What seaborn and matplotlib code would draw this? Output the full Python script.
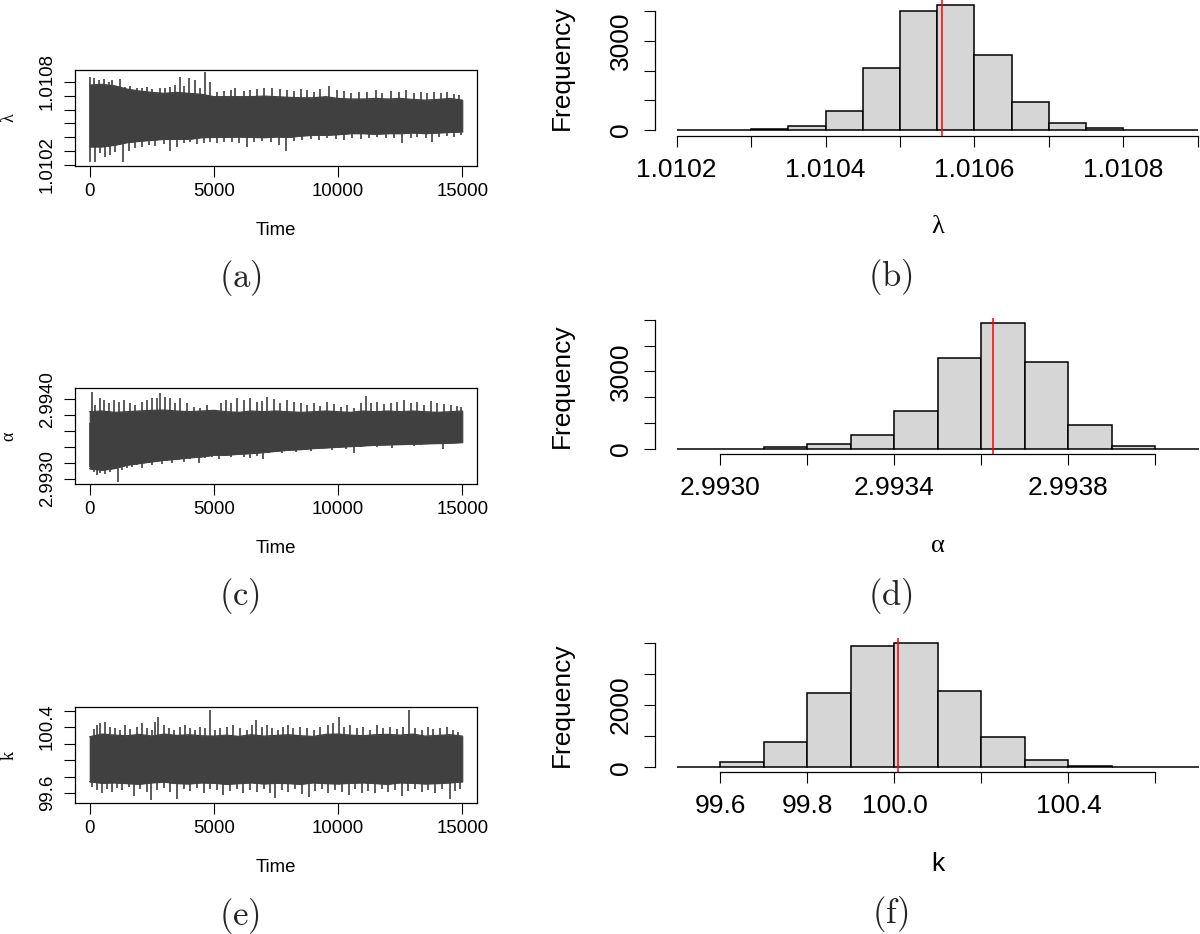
import numpy as np
import matplotlib
matplotlib.use("Agg")
import matplotlib.pyplot as plt
import seaborn as sns

sns.set_theme(style="white")
plt.rcParams['font.family'] = ['Liberation Sans', 'DejaVu Sans']
plt.rcParams['mathtext.fontset'] = 'cm'

# ---- trace plots: dense band edges read every 500 iterations, plus the spikes seen on its edges ----
trace_iter = list(range(0, 15001, 500))

lam_hi = [1.010778, 1.010783, 1.010773, 1.010749, 1.010735, 1.010725, 1.010718, 1.010725,
          1.010718, 1.010711, 1.010694, 1.010694, 1.010694, 1.010694, 1.010698, 1.010694,
          1.010689, 1.010686, 1.010686, 1.010694, 1.010681, 1.010677, 1.010677, 1.010681,
          1.010677, 1.010681, 1.010674, 1.010669, 1.010674, 1.010681, 1.010669]
lam_lo = [1.010331, 1.010331, 1.010343, 1.010362, 1.010372, 1.010379, 1.010386, 1.010386,
          1.010386, 1.010398, 1.010400, 1.010400, 1.010403, 1.010400, 1.010398, 1.010403,
          1.010400, 1.010410, 1.010415, 1.010415, 1.010420, 1.010427, 1.010427, 1.010423,
          1.010427, 1.010427, 1.010432, 1.010427, 1.010432, 1.010436, 1.010440]
lam_up_iter = [30, 160, 360, 560, 770, 900, 1210, 1440, 1640, 1910, 2110, 2310, 2510, 2850,
               3050, 3250, 3450, 3630, 3790, 3990, 4260, 4460, 4630, 4860, 5130, 5400, 5670,
               5870, 6210, 6470, 6740, 7010, 7350, 7680, 7950, 8220, 8490, 8760, 9030, 9290,
               9630, 9970, 10230, 10500, 10840, 11170, 11510, 11780, 12110, 12450, 12720,
               13050, 13320, 13590, 13860, 14130, 14400, 14670, 14870]
lam_up_val = [1.010839, 1.010827, 1.010815, 1.010822, 1.010802, 1.010815, 1.010822, 1.010766,
              1.010773, 1.010754, 1.010759, 1.010766, 1.010749, 1.010754, 1.010759, 1.010766,
              1.010778, 1.010839, 1.010773, 1.010827, 1.010815, 1.010754, 1.010870, 1.010802,
              1.010730, 1.010735, 1.010742, 1.010754, 1.010735, 1.010742, 1.010749, 1.010759,
              1.010754, 1.010749, 1.010742, 1.010735, 1.010749, 1.010742, 1.010730, 1.010749,
              1.010773, 1.010742, 1.010735, 1.010718, 1.010725, 1.010730, 1.010742, 1.010718,
              1.010735, 1.010730, 1.010742, 1.010718, 1.010725, 1.010718, 1.010730, 1.010718,
              1.010725, 1.010711, 1.010706]
lam_dn_iter = [30, 230, 430, 630, 830, 1030, 1340, 1570, 1840, 2110, 2380, 2650, 2980, 3250,
               3520, 3790, 4060, 4320, 4590, 4860, 5130, 5400, 5740, 6000, 6340, 6610, 6940,
               7280, 7620, 7920, 8220, 8560, 8890, 9230, 9560, 9900, 10230, 10570, 10910,
               11240, 11580, 11910, 12250, 12580, 12920, 13190, 13520, 13790, 14060, 14400,
               14670, 14930]
lam_dn_val = [1.010217, 1.010222, 1.010282, 1.010258, 1.010270, 1.010290, 1.010217, 1.010299,
              1.010319, 1.010331, 1.010343, 1.010338, 1.010348, 1.010299, 1.010331, 1.010355,
              1.010362, 1.010348, 1.010355, 1.010367, 1.010355, 1.010362, 1.010367, 1.010355,
              1.010331, 1.010362, 1.010372, 1.010367, 1.010343, 1.010299, 1.010372, 1.010379,
              1.010386, 1.010379, 1.010391, 1.010386, 1.010379, 1.010391, 1.010386, 1.010396,
              1.010403, 1.010391, 1.010396, 1.010355, 1.010396, 1.010403, 1.010396, 1.010367,
              1.010403, 1.010410, 1.010403, 1.010415]

alp_hi = [2.993845, 2.993854, 2.993837, 2.993845, 2.993854, 2.993862, 2.993866, 2.993854,
          2.993845, 2.993854, 2.993862, 2.993845, 2.993837, 2.993854, 2.993845, 2.993854,
          2.993845, 2.993837, 2.993845, 2.993854, 2.993845, 2.993837, 2.993854, 2.993845,
          2.993854, 2.993845, 2.993854, 2.993845, 2.993837, 2.993845, 2.993854]
alp_lo = [2.993130, 2.993113, 2.993134, 2.993176, 2.993197, 2.993218, 2.993238, 2.993251,
          2.993268, 2.993280, 2.993301, 2.993301, 2.993314, 2.993322, 2.993335, 2.993351,
          2.993364, 2.993372, 2.993385, 2.993393, 2.993402, 2.993410, 2.993418, 2.993427,
          2.993431, 2.993435, 2.993439, 2.993444, 2.993448, 2.993452, 2.993460]
alp_up_iter = [90, 230, 430, 560, 770, 970, 1170, 1370, 1640, 1840, 2110, 2310, 2510, 2710,
               2850, 3050, 3250, 3450, 3650, 3920, 4190, 4460, 4730, 5000, 5270, 5470, 5670,
               5940, 6210, 6470, 6740, 6940, 7150, 7410, 7680, 7950, 8220, 8490, 8760, 9030,
               9290, 9560, 9830, 10100, 10370, 10640, 10910, 11110, 11310, 11580, 11850,
               12110, 12380, 12650, 12920, 13190, 13460, 13730, 13990, 14260, 14530, 14800,
               14930]
alp_up_val = [2.994096, 2.993929, 2.994021, 2.993992, 2.993950, 2.993992, 2.993971, 2.993992,
              2.993950, 2.993929, 2.993971, 2.993992, 2.994013, 2.994021, 2.994075, 2.994033,
              2.994013, 2.993950, 2.994013, 2.993950, 2.993908, 2.993887, 2.993929, 2.993866,
              2.993950, 2.993992, 2.993950, 2.994013, 2.993992, 2.994013, 2.993971, 2.993979,
              2.994033, 2.994004, 2.993950, 2.993992, 2.993971, 2.993950, 2.993929, 2.993950,
              2.993920, 2.993962, 2.993937, 2.993908, 2.993929, 2.993887, 2.993950, 2.994046,
              2.993950, 2.993971, 2.993937, 2.993950, 2.993971, 2.993992, 2.993950, 2.993962,
              2.993929, 2.993979, 2.993950, 2.993937, 2.993929, 2.993920, 2.993908]
alp_dn_iter = [30, 160, 300, 430, 630, 830, 1130, 1300, 1500, 1710, 1910, 2110, 2310, 2510,
               2710, 2910, 3120, 3320, 3520, 3790, 4060, 4390, 4660, 4930, 5200, 5400, 5670,
               5940, 6210, 6470, 6740, 6980, 7210, 7480, 7750, 8020, 8290, 8560, 8890, 9160,
               9500, 9760, 10030, 10300, 10640, 10910, 11240, 11580, 11850, 12180, 12450,
               12720, 13050, 13320, 13590, 13860, 14200, 14460, 14730, 14930]
alp_dn_val = [2.993155, 2.993084, 2.993050, 2.993071, 2.993059, 2.993084, 2.992967, 2.993113,
              2.993134, 2.993155, 2.993176, 2.993142, 2.993197, 2.993176, 2.993209, 2.993184,
              2.993226, 2.993197, 2.993238, 2.993209, 2.993251, 2.993197, 2.993268, 2.993280,
              2.993251, 2.993293, 2.993280, 2.993301, 2.993280, 2.993268, 2.993293, 2.993251,
              2.993322, 2.993343, 2.993322, 2.993351, 2.993343, 2.993364, 2.993351, 2.993377,
              2.993385, 2.993364, 2.993393, 2.993377, 2.993322, 2.993406, 2.993418, 2.993406,
              2.993427, 2.993393, 2.993427, 2.993435, 2.993418, 2.993427, 2.993435, 2.993448,
              2.993377, 2.993448, 2.993460, 2.993477]

k_hi = [100.284, 100.317, 100.304, 100.296, 100.313, 100.292, 100.317, 100.300, 100.309, 100.296,
        100.292, 100.304, 100.288, 100.309, 100.292, 100.300, 100.309, 100.296, 100.288, 100.313,
        100.317, 100.304, 100.296, 100.309, 100.313, 100.304, 100.317, 100.292, 100.300, 100.309,
        100.292]
k_lo = [99.738, 99.721, 99.726, 99.717, 99.709, 99.726, 99.734, 99.717, 99.713, 99.726,
        99.721, 99.709, 99.717, 99.726, 99.713, 99.721, 99.717, 99.709, 99.726, 99.717,
        99.713, 99.721, 99.726, 99.717, 99.709, 99.726, 99.721, 99.713, 99.717, 99.726, 99.738]
k_up_iter = [160, 300, 430, 630, 830, 1030, 1230, 1430, 1640, 1900, 2110, 2310, 2510, 2640,
             2760, 2980, 3180, 3380, 3650, 3850, 4050, 4250, 4450, 4650, 4850, 5050, 5260,
             5520, 5790, 6060, 6330, 6530, 6700, 6930, 7130, 7330, 7600, 7800, 8000, 8200,
             8470, 8740, 9010, 9280, 9610, 9810, 10030, 10220, 10480, 10750, 11020, 11290,
             11560, 11820, 12090, 12360, 12630, 12840, 13100, 13370, 13630, 13830, 14100,
             14370, 14640, 14840]
k_up_val = [100.373, 100.426, 100.446, 100.466, 100.398, 100.385, 100.365, 100.426, 100.373,
            100.406, 100.446, 100.385, 100.365, 100.466, 100.519, 100.426, 100.385, 100.365,
            100.406, 100.426, 100.385, 100.365, 100.406, 100.385, 100.608, 100.365, 100.385,
            100.406, 100.426, 100.385, 100.365, 100.426, 100.487, 100.406, 100.426, 100.385,
            100.365, 100.406, 100.426, 100.385, 100.406, 100.385, 100.365, 100.406, 100.426,
            100.446, 100.527, 100.406, 100.426, 100.385, 100.406, 100.365, 100.426, 100.385,
            100.406, 100.373, 100.406, 100.608, 100.385, 100.365, 100.406, 100.373, 100.385,
            100.398, 100.365, 100.345]
k_dn_iter = [90, 300, 500, 700, 900, 1100, 1300, 1570, 1800, 2040, 2310, 2470, 2710, 2980,
             3240, 3510, 3780, 4050, 4320, 4590, 4850, 5120, 5360, 5660, 5930, 6190, 6460,
             6730, 7000, 7270, 7470, 7740, 8000, 8270, 8540, 8810, 9080, 9340, 9610, 9880,
             10150, 10420, 10680, 10950, 11220, 11490, 11760, 12020, 12290, 12560, 12830,
             13100, 13370, 13630, 13900, 14170, 14500, 14710, 14910]
k_dn_val = [99.677, 99.636, 99.596, 99.645, 99.616, 99.657, 99.636, 99.677, 99.564, 99.645,
            99.616, 99.515, 99.636, 99.657, 99.616, 99.523, 99.645, 99.628, 99.657, 99.604,
            99.645, 99.636, 99.576, 99.628, 99.645, 99.604, 99.636, 99.616, 99.645, 99.596,
            99.543, 99.636, 99.616, 99.645, 99.588, 99.555, 99.628, 99.645, 99.604, 99.636,
            99.616, 99.572, 99.645, 99.604, 99.628, 99.596, 99.645, 99.616, 99.636, 99.568,
            99.628, 99.645, 99.616, 99.636, 99.604, 99.645, 99.523, 99.628, 99.645]

# ---- histograms: bin breaks and counts ----
lam_edges = [1.0102, 1.01025, 1.0103, 1.01035, 1.0104, 1.01045, 1.0105, 1.01055,
             1.0106, 1.01065, 1.0107, 1.01075, 1.0108, 1.01085, 1.0109]
lam_counts = [2, 3, 34, 146, 651, 2088, 4018, 4209, 2514, 932, 224, 56, 10, 2]
lam_mean = 1.010556

alp_edges = [2.9929, 2.9930, 2.9931, 2.9932, 2.9933, 2.9934, 2.9935, 2.9936,
             2.9937, 2.9938, 2.9939, 2.9940, 2.9941]
alp_counts = [10, 10, 65, 180, 555, 1460, 3535, 4865, 3370, 930, 116, 13]
alp_mean = 2.993627

k_edges = [99.5, 99.6, 99.7, 99.8, 99.9, 100.0, 100.1, 100.2, 100.3, 100.4, 100.5, 100.6, 100.7]
k_counts = [21, 160, 800, 2395, 3890, 4000, 2450, 975, 245, 45, 10, 3]
k_mean = 100.008

time_ticks = [0, 5000, 10000, 15000]
time_labels = ['0', '5000', '10000', '15000']

lam_trace_ticks = [1.0102, 1.0103, 1.0104, 1.0105, 1.0106, 1.0107, 1.0108]
lam_trace_labels = ['1.0102', '', '', '', '', '', '1.0108']
alp_trace_ticks = [2.9930, 2.9932, 2.9934, 2.9936, 2.9938, 2.9940]
alp_trace_labels = ['2.9930', '', '', '', '', '2.9940']
k_trace_ticks = [99.6, 99.8, 100.0, 100.2, 100.4, 100.6]
k_trace_labels = ['99.6', '', '', '', '100.4', '']

lam_hist_ticks = [1.0102, 1.0103, 1.0104, 1.0105, 1.0106, 1.0107, 1.0108, 1.0109]
lam_hist_labels = ['1.0102', '', '1.0104', '', '1.0106', '', '1.0108', '']
alp_hist_ticks = [2.9930, 2.9932, 2.9934, 2.9936, 2.9938, 2.9940]
alp_hist_labels = ['2.9930', '', '2.9934', '', '2.9938', '']
k_hist_ticks = [99.6, 99.8, 100.0, 100.2, 100.4, 100.6]
k_hist_labels = ['99.6', '99.8', '100.0', '', '100.4', '']

lam_freq_ticks = [0, 1000, 2000, 3000, 4000]
lam_freq_labels = ['0', '', '', '3000', '']
alp_freq_ticks = [0, 1000, 2000, 3000, 4000, 5000]
alp_freq_labels = ['0', '', '', '3000', '', '']
k_freq_ticks = [0, 1000, 2000, 3000, 4000]
k_freq_labels = ['0', '', '2000', '', '']

TRACE = '#404040'
BAR = '#d6d6d6'
W, H = 1200, 934

fig = plt.figure(figsize=(12, 9.34), dpi=100)


def px_axes(l, t, r, b):
    return fig.add_axes([l / W, 1 - b / H, (r - l) / W, (b - t) / H])


def fx(x):
    return x / W


def fy(y):
    return 1 - y / H


def trace_panel(top, bottom, it, lo, hi, up_it, up_val, dn_it, dn_val, mid,
                ylim, yticks, ylabels, ylab, cap):
    l, r = 74.7, 477.3
    ax = px_axes(l, top, r, bottom)
    # spikes sticking out of the dense band, drawn underneath it
    ax.vlines(up_it, mid, up_val, color=TRACE, lw=1.2, zorder=1)
    ax.vlines(dn_it, dn_val, mid, color=TRACE, lw=1.2, zorder=1)
    ax.fill_between(it, lo, hi, color=TRACE, lw=0.6, zorder=2)
    sns.lineplot(x=it, y=hi, color=TRACE, lw=0.8, ax=ax, zorder=2)
    sns.lineplot(x=it, y=lo, color=TRACE, lw=0.8, ax=ax, zorder=2)
    ax.set_xlim(-599, 15600)
    ax.set_ylim(ylim)
    ax.set_xticks(time_ticks)
    ax.set_xticklabels(time_labels)
    ax.set_yticks(yticks)
    ax.set_yticklabels(ylabels, rotation=90, va='center')
    for s in ax.spines.values():
        s.set_visible(True)
        s.set_color('black')
        s.set_linewidth(0.9)
    ax.tick_params(axis='both', direction='out', length=7.9, width=0.8, color='black',
                   labelsize=13.4, bottom=True, left=True, labelcolor='black')
    ax.tick_params(axis='x', pad=4.4)
    ax.tick_params(axis='y', pad=5.5)
    ax.set_xlabel('Time', fontsize=13.4, va='center', color='black')
    ax.xaxis.set_label_coords(fx((l + r) / 2), fy(bottom + 64.5), transform=fig.transFigure)
    ax.set_ylabel(ylab, fontsize=13, family='Liberation Serif', rotation=90,
                  va='center', ha='center', color='black')
    ax.yaxis.set_label_coords(fx(9), fy((top + bottom) / 2), transform=fig.transFigure)
    fig.text(fx(240), fy(bottom + 112.5), cap, fontsize=25, ha='center', va='center')
    return ax


def hist_panel(top, bottom, edges, counts, mean, xlim, ylim, xticks, xlabels,
               yticks, ylabels, xlab, cap, xlab_family):
    l, r = 655, 1220
    ax = px_axes(l, top, r, bottom)
    centers = [(edges[i] + edges[i + 1]) / 2 for i in range(len(counts))]
    sns.histplot(x=centers, weights=counts, bins=edges, color=BAR, edgecolor='black',
                 linewidth=1.1, alpha=1, ax=ax)
    ax.axvline(mean, color='red', lw=1.1)
    ax.set_xlim(xlim)
    ax.set_ylim(ylim)
    ax.set_xticks(xticks)
    ax.set_xticklabels(xlabels)
    ax.set_yticks(yticks)
    ax.set_yticklabels(ylabels, rotation=90, va='center')
    ax.spines['top'].set_visible(False)
    ax.spines['right'].set_visible(False)
    for side in ['left', 'bottom']:
        ax.spines[side].set_visible(True)
        ax.spines[side].set_color('black')
        ax.spines[side].set_linewidth(0.9)
    ax.spines['left'].set_bounds(yticks[0], yticks[-1])
    ax.spines['bottom'].set_bounds(xticks[0], xticks[-1])
    ax.tick_params(axis='both', direction='out', length=7.9, width=0.8, color='black',
                   labelsize=19, bottom=True, left=True, labelcolor='black')
    ax.tick_params(axis='x', pad=8.0)
    ax.tick_params(axis='y', pad=8.0)
    ax.set_xlabel(xlab, fontsize=19, family=xlab_family, va='center', color='black')
    ax.xaxis.set_label_coords(fx(938), fy(bottom + 91.5), transform=fig.transFigure)
    ax.set_ylabel('Frequency', fontsize=19, rotation=90, va='center', ha='center', color='black')
    ax.yaxis.set_label_coords(fx(562), fy((top + bottom) / 2), transform=fig.transFigure)
    fig.text(fx(890), fy(bottom + 141.5), cap, fontsize=25, ha='center', va='center')
    return ax


trace_panel(69.7, 165.7, trace_iter, lam_lo, lam_hi, lam_up_iter, lam_up_val,
            lam_dn_iter, lam_dn_val, 1.01056, (1.010193, 1.010889),
            lam_trace_ticks, lam_trace_labels, 'λ', r'$\mathrm{(a)}$')
trace_panel(388.3, 484.0, trace_iter, alp_lo, alp_hi, alp_up_iter, alp_up_val,
            alp_dn_iter, alp_dn_val, 2.99370, (2.992937, 2.994138),
            alp_trace_ticks, alp_trace_labels, 'α', r'$\mathrm{(c)}$')
trace_panel(706.7, 803.3, trace_iter, k_lo, k_hi, k_up_iter, k_up_val,
            k_dn_iter, k_dn_val, 100.01, (99.4745, 100.6486),
            k_trace_ticks, k_trace_labels, 'k', r'$\mathrm{(e)}$')

hist_panel(0.0, 135.7, lam_edges, lam_counts, lam_mean, (1.01017083, 1.01093024),
           (-192, 4377), lam_hist_ticks, lam_hist_labels, lam_freq_ticks, lam_freq_labels,
           'λ', r'$\mathrm{(b)}$', 'Liberation Serif')
hist_panel(318.3, 454.0, alp_edges, alp_counts, alp_mean, (2.99284966, 2.99414851),
           (-195, 5060), alp_hist_ticks, alp_hist_labels, alp_freq_ticks, alp_freq_labels,
           'α', r'$\mathrm{(d)}$', 'Liberation Serif')
hist_panel(637.6, 772.3, k_edges, k_counts, k_mean, (99.44966, 100.74851),
           (-160, 4160), k_hist_ticks, k_hist_labels, k_freq_ticks, k_freq_labels,
           'k', r'$\mathrm{(f)}$', 'Liberation Sans')

fig.savefig('out.png', dpi=100)
